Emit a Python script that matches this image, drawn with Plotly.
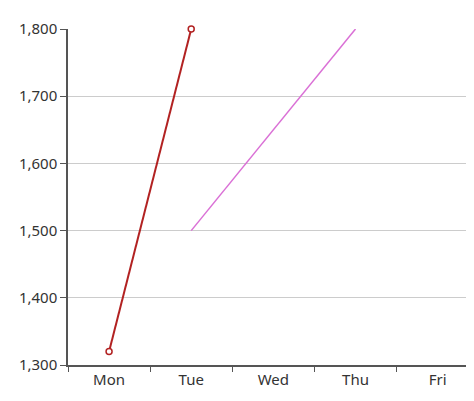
import plotly.graph_objects as go

days = ["Mon", "Tue", "Wed", "Thu", "Fri"]
series_a = [1320, 1800, None, None, None]
series_b = [None, 1500, 1650, 1800, None]
y_ticks = [1300, 1400, 1500, 1600, 1700, 1800]

fig = go.Figure()
fig.add_trace(go.Scatter(
    x=days, y=series_a, mode="lines+markers",
    line=dict(color="#b22222", width=2),
    marker=dict(symbol="circle", size=6, color="white",
                line=dict(color="#b22222", width=1.5)),
    showlegend=False, connectgaps=False, cliponaxis=False,
))
fig.add_trace(go.Scatter(
    x=days, y=series_b, mode="lines",
    line=dict(color="#da70d6", width=1.5),
    showlegend=False,
))

font = dict(family="Noto Sans, Open Sans, sans-serif", size=15, color="#333333")
fig.update_layout(
    width=474, height=393,
    margin=dict(l=60, r=0, t=21, b=36),
    paper_bgcolor="white", plot_bgcolor="white",
    font=font,
    xaxis=dict(
        type="category", categoryorder="array", categoryarray=days,
        range=[-0.5, 4.54], tickson="boundaries",
        ticks="outside", ticklen=5, tickcolor="#555555",
        showline=True, linecolor="#555555", linewidth=1.5,
        showgrid=False, zeroline=False, tickfont=font,
    ),
    yaxis=dict(
        range=[1300, 1800], tickvals=y_ticks, tickformat=",",
        ticks="outside", ticklen=6, tickcolor="#555555",
        showline=True, linecolor="#555555", linewidth=1.5,
        showgrid=True, gridcolor="#cccccc", gridwidth=1,
        zeroline=False, tickfont=font,
    ),
)

fig.write_html("out.html")
